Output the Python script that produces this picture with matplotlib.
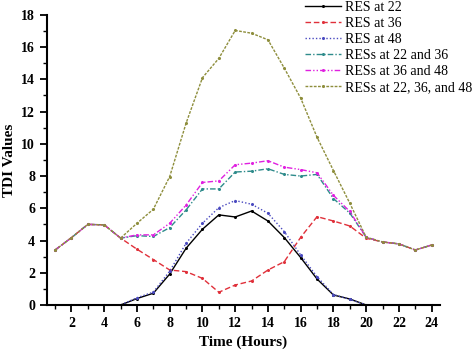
import numpy as np
import matplotlib
matplotlib.use("Agg")
import matplotlib.pyplot as plt
from matplotlib.ticker import MultipleLocator

plt.rcParams.update(
    {
        "font.family": "serif",
        "font.serif": ["Liberation Serif", "DejaVu Serif"],
    }
)

hours = np.arange(1, 25)

res_22 = [0, 0, 0, 0, 0, 0.4, 0.73, 1.92, 3.52, 4.7, 5.59, 5.46,
          5.83, 5.21, 4.18, 2.94, 1.61, 0.62, 0.37, 0, 0, 0, 0, 0]
res_36 = [3.41, 4.18, 5.0, 4.97, 4.15, 3.46, 2.82, 2.17, 2.07, 1.65, 0.79, 1.24,
          1.49, 2.17, 2.69, 4.2, 5.48, 5.21, 4.9, 4.14, 3.91, 3.79, 3.41, 3.72]
res_48 = [0, 0, 0, 0, 0, 0.45, 0.8, 2.1, 3.83, 5.07, 6.04, 6.48,
          6.25, 5.69, 4.55, 3.1, 1.75, 0.65, 0.35, 0, 0, 0, 0, 0]
ress_22_36 = [3.41, 4.18, 5.0, 4.97, 4.15, 4.3, 4.25, 4.8, 5.9, 7.2, 7.2, 8.25,
              8.3, 8.45, 8.1, 8.0, 8.1, 6.6, 5.7, 4.2, 3.91, 3.79, 3.41, 3.72]
ress_36_48 = [3.41, 4.18, 5.0, 4.97, 4.15, 4.35, 4.35, 5.07, 6.2, 7.6, 7.7, 8.7,
              8.8, 8.95, 8.55, 8.4, 8.2, 6.8, 5.8, 4.2, 3.91, 3.79, 3.41, 3.72]
ress_all = [3.41, 4.18, 5.0, 4.97, 4.15, 5.07, 5.94, 7.97, 11.28, 14.1, 15.3, 17.03,
            16.86, 16.45, 14.69, 12.83, 10.4, 8.34, 6.31, 4.2, 3.91, 3.79, 3.41, 3.72]

series = [
    ("RES at 22", res_22, "black", "-"),
    ("RES at 36", res_36, "#e0303a", (0, (4, 2))),
    ("RES at 48", res_48, "#4a4ac0", (0, (1, 1.5))),
    ("RESs at 22 and 36", ress_22_36, "#2e8b8b", (0, (4, 1.5, 1, 1.5))),
    ("RESs at 36 and 48", ress_36_48, "#e020e0", (0, (4, 1.5, 1, 1.5, 1, 1.5))),
    ("RESs at 22, 36, and 48", ress_all, "#8e8e3c", (0, (2, 1))),
]

fig = plt.figure(figsize=(4.74, 3.53), dpi=100)
ax = fig.add_axes([0.099, 0.136, 0.829, 0.822])

for label, vals, color, ls in series:
    ax.plot(
        hours,
        vals,
        linestyle=ls,
        color=color,
        linewidth=1.0,
        marker="o",
        markersize=1.2,
        label=label,
    )

ax.set_xlim(0.5, 24.5)
ax.set_ylim(0, 18)
ax.xaxis.set_major_locator(MultipleLocator(2))
ax.xaxis.set_minor_locator(MultipleLocator(1))
ax.yaxis.set_major_locator(MultipleLocator(2))
ax.yaxis.set_minor_locator(MultipleLocator(1))

for side in ["top", "right"]:
    ax.spines[side].set_visible(False)
for side in ["left", "bottom"]:
    ax.spines[side].set_linewidth(1.5)

ax.tick_params(which="major", length=5, width=1.3, labelsize=10, direction="out")
ax.tick_params(which="minor", length=3, width=1.0, direction="out")
for t in ax.get_xticklabels() + ax.get_yticklabels():
    t.set_fontweight("bold")

ax.set_xlabel("Time (Hours)", fontsize=11, fontweight="bold")
ax.set_ylabel("TDI Values", fontsize=11, fontweight="bold")

ax.legend(
    loc="upper right",
    bbox_to_anchor=(1.113, 1.091),
    frameon=False,
    fontsize=10,
    handlelength=2.6,
    labelspacing=0.22,
    handletextpad=0.25,
)

fig.savefig("out.png", dpi=100)
